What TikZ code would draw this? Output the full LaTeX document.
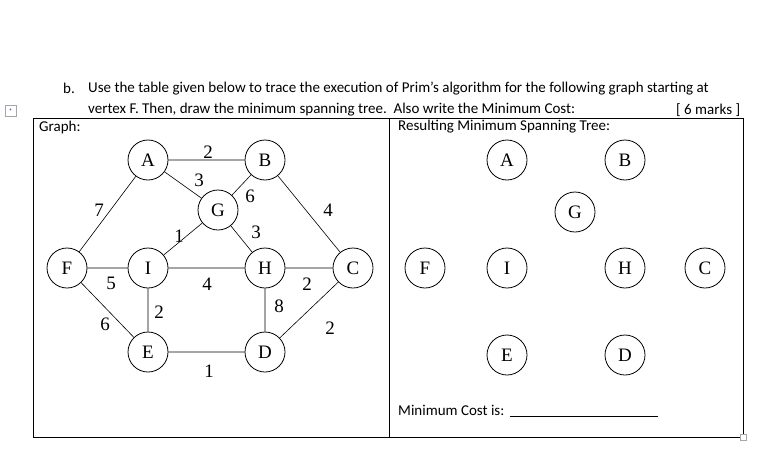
\documentclass[tikz,border=0pt]{standalone}
\usepackage{fontspec}
\setmainfont{Carlito}
\newfontfamily\tms{Liberation Serif}
\begin{document}
\begin{tikzpicture}[x=1pt,y=-1pt,
  vx/.style={circle,draw,thick,minimum size=40pt,inner sep=0pt,font=\tms\fontsize{19}{19}\selectfont},
  wl/.style={font=\tms\fontsize{19}{19}\selectfont,inner sep=0pt},
  tx/.style={font=\fontsize{15}{16}\selectfont,anchor=west,inner sep=0pt},
  ed/.style={draw,semithick}]
\useasboundingbox (0,0) rectangle (762,463);
\node[tx] (t1) at (63,88) {b.};
\node[tx] (t2) at (88,88) {Use the table given below to trace the execution of Prim’s algorithm for the following graph starting at};
\node[tx] (t3) at (88,110) {vertex F. Then, draw the minimum spanning tree.\ \ Also write the Minimum Cost:};
\node[tx] (t4) at (676,110) {[ 6 marks ]};
\draw[gray!70] (5,105) rectangle (16,116);
\node[font=\tiny,text=blue!60!black,inner sep=0pt] (ic) at (10.5,110.5) {+};
\draw (33,118) rectangle (743,437);
\draw (389,118) -- (389,437);
\draw[gray!70,fill=white] (740,434) rectangle (746,440);
\node[tx] (g) at (39,127) {Graph:};
\node[tx] (r) at (398,127) {Resulting Minimum Spanning Tree:};
\node[tx] (m) at (398,410) {Minimum Cost is:};
\draw (510,416) -- (658,416);
% left graph
\node[vx] (A) at (148,160) {A};
\node[vx] (B) at (265,160) {B};
\node[vx] (G) at (218,210) {G};
\node[vx] (F) at (67,268) {F};
\node[vx] (I) at (148,268) {I};
\node[vx] (H) at (265,268) {H};
\node[vx] (C) at (353,268) {C};
\node[vx] (E) at (148,352) {E};
\node[vx] (D) at (265,352) {D};
\path[ed] (A)--(B) (A)--(G) (B)--(G) (F)--(A) (B)--(C) (G)--(I) (G)--(H)
 (F)--(I) (I)--(H) (H)--(C) (F)--(E) (I)--(E) (H)--(D) (C)--(D) (E)--(D);
\node[wl] (l1) at (208,152) {2};
\node[wl] (l2) at (199,180) {3};
\node[wl] (l3) at (250,196) {6};
\node[wl] (l4) at (99,210) {7};
\node[wl] (l5) at (179,236) {1};
\node[wl] (l6) at (256,232) {3};
\node[wl] (l7) at (328,210) {4};
\node[wl] (l8) at (111,283) {5};
\node[wl] (l9) at (207,284) {4};
\node[wl] (l10) at (307,284) {2};
\node[wl] (l11) at (159,312) {2};
\node[wl] (l12) at (279,306) {8};
\node[wl] (l13) at (105,324) {6};
\node[wl] (l14) at (330,328) {2};
\node[wl] (l15) at (209,371) {1};
% right graph
\node[vx] (A2) at (507,160) {A};
\node[vx] (B2) at (625,160) {B};
\node[vx] (G2) at (575,212) {G};
\node[vx] (F2) at (425,268) {F};
\node[vx] (I2) at (507,268) {I};
\node[vx] (H2) at (625,268) {H};
\node[vx] (C2) at (705,268) {C};
\node[vx] (E2) at (507,355) {E};
\node[vx] (D2) at (625,355) {D};
\end{tikzpicture}
\end{document}
